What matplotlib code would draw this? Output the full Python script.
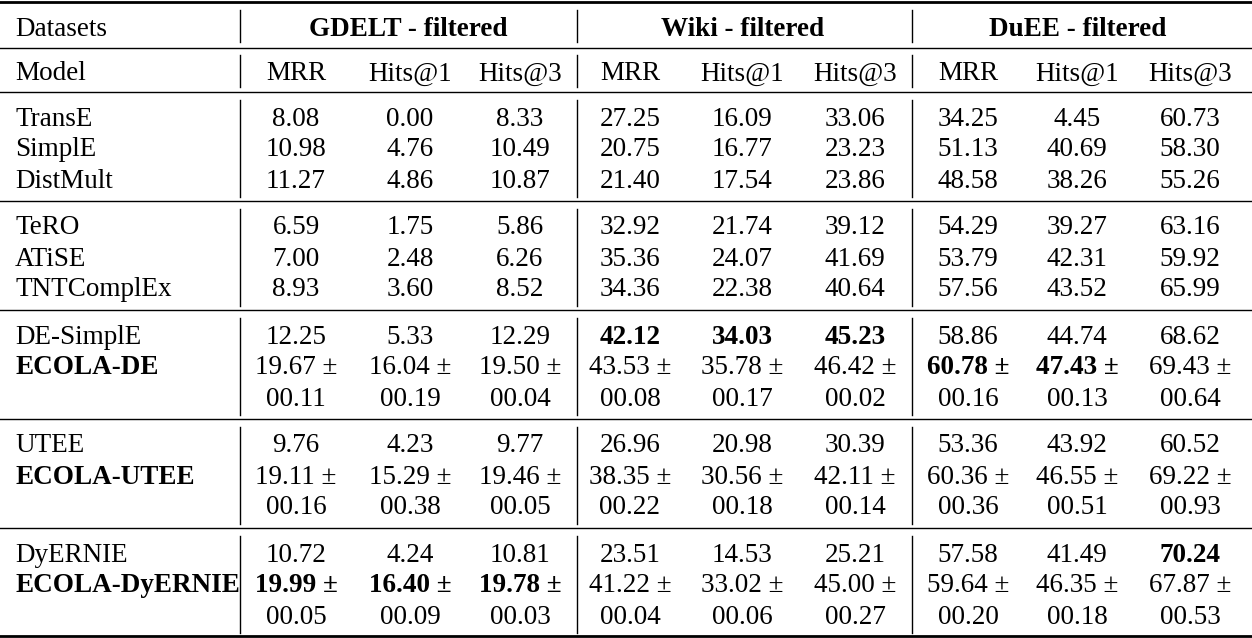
import matplotlib
matplotlib.use("Agg")
import matplotlib.pyplot as plt

datasets = ["GDELT - filtered", "Wiki - filtered", "DuEE - filtered"]
metrics = ["MRR", "Hits@1", "Hits@3"]

groups = [
    [("TransE", ["8.08","0.00","8.33","27.25","16.09","33.06","34.25","4.45","60.73"]),
     ("SimplE", ["10.98","4.76","10.49","20.75","16.77","23.23","51.13","40.69","58.30"]),
     ("DistMult", ["11.27","4.86","10.87","21.40","17.54","23.86","48.58","38.26","55.26"])],
    [("TeRO", ["6.59","1.75","5.86","32.92","21.74","39.12","54.29","39.27","63.16"]),
     ("ATiSE", ["7.00","2.48","6.26","35.36","24.07","41.69","53.79","42.31","59.92"]),
     ("TNTComplEx", ["8.93","3.60","8.52","34.36","22.38","40.64","57.56","43.52","65.99"])],
    [("DE-SimplE", ["12.25","5.33","12.29","42.12","34.03","45.23","58.86","44.74","68.62"]),
     ("ECOLA-DE", ["19.67","16.04","19.50","43.53","35.78","46.42","60.78","47.43","69.43"],
      ["00.11","00.19","00.04","00.08","00.17","00.02","00.16","00.13","00.64"])],
    [("UTEE", ["9.76","4.23","9.77","26.96","20.98","30.39","53.36","43.92","60.52"]),
     ("ECOLA-UTEE", ["19.11","15.29","19.46","38.35","30.56","42.11","60.36","46.55","69.22"],
      ["00.16","00.38","00.05","00.22","00.18","00.14","00.36","00.51","00.93"])],
    [("DyERNIE", ["10.72","4.24","10.81","23.51","14.53","25.21","57.58","41.49","70.24"]),
     ("ECOLA-DyERNIE", ["19.99","16.40","19.78","41.22","33.02","45.00","59.64","46.35","67.87"],
      ["00.05","00.09","00.03","00.04","00.06","00.27","00.20","00.18","00.53"])],
]
bold_models = {"ECOLA-DE", "ECOLA-UTEE", "ECOLA-DyERNIE"}
bold_cells = {("DE-SimplE", 3), ("DE-SimplE", 4), ("DE-SimplE", 5),
              ("ECOLA-DE", 6), ("ECOLA-DE", 7), ("DyERNIE", 8),
              ("ECOLA-DyERNIE", 0), ("ECOLA-DyERNIE", 1), ("ECOLA-DyERNIE", 2)}

W, H = 1252, 638
fig = plt.figure(figsize=(W/100, H/100), dpi=100)
ax = fig.add_axes([0, 0, 1, 1])
ax.set_xlim(0, W); ax.set_ylim(H, 0); ax.axis("off")
FONT = "Liberation Serif"
FS = 19.5

colx = [296, 410, 520, 630, 742, 855, 968, 1077, 1190]
vx = [240, 577, 912]
dsx = [408, 743, 1078]

def txt(x, y, s, bold=False, ha="center"):
    ax.text(x, y + 1, s, fontsize=FS, family=FONT, ha=ha, va="center_baseline",
            fontweight="bold" if bold else "normal", color="black")

def vseg(y0, y1):
    for x in vx:
        ax.plot([x, x], [y0, y1], color="black", lw=1.0)

ax.plot([0, W], [1.5, 1.5], color="black", lw=2.0)
ax.plot([0, W], [48, 48], color="black", lw=1.0)
ax.plot([0, W], [92, 92], color="black", lw=1.0)
ax.plot([0, W], [636, 636], color="black", lw=2.0)

txt(15, 25, "Datasets", ha="left")
for x, d in zip(dsx, datasets):
    txt(x, 25, d, bold=True)
vseg(10, 42)
txt(15, 70, "Model", ha="left")
for i, x in enumerate(colx):
    txt(x, 70, metrics[i % 3])
vseg(55, 87)

y = 115
step = 31
for gi, g in enumerate(groups):
    top = y - 15
    for row in g:
        name, vals = row[0], row[1]
        txt(15, y, name, bold=name in bold_models, ha="left")
        for i, (x, v) in enumerate(zip(colx, vals)):
            s = v + " ±" if len(row) > 2 else v
            txt(x, y, s, bold=(name, i) in bold_cells)
        y += step
        if len(row) > 2:
            for x, v in zip(colx, row[2]):
                txt(x, y, v)
            y += step
    bottom = y - step + 20
    vseg(top, bottom)
    rule = y - step + 24
    if gi < len(groups) - 1:
        ax.plot([0, W], [rule, rule], color="black", lw=1.0)
    y = rule + 23

fig.savefig("out.png", dpi=100, facecolor="white")
